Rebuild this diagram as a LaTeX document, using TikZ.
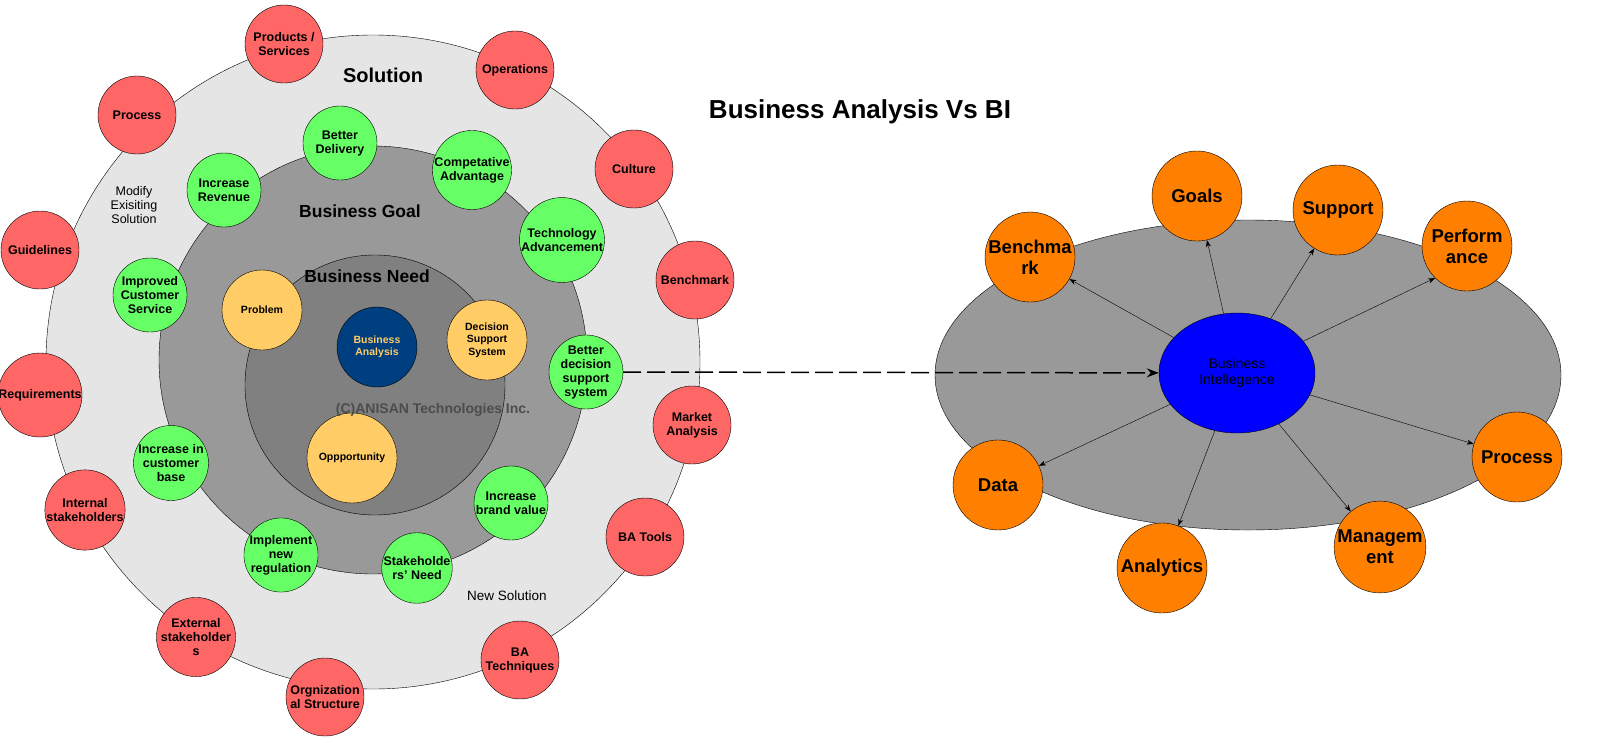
\documentclass[tikz,border=0pt]{standalone}
\usepackage{fontspec}
\setmainfont{Liberation Sans}
\usetikzlibrary{arrows.meta,shapes.geometric}
\definecolor{cred}{HTML}{FF6666}
\definecolor{cgrn}{HTML}{66FF66}
\definecolor{cyel}{HTML}{FFCC66}
\definecolor{cora}{HTML}{FF8000}
\definecolor{cnavy}{HTML}{003F7F}
\tikzset{
 bub/.style={circle,draw=black,minimum size=#1,inner sep=0pt,align=center,font=\fontsize{12.5}{14}\selectfont\bfseries},
 redb/.style={bub=78pt,fill=cred},
 grnb/.style={bub=74pt,fill=cgrn},
 yelb/.style={bub=80pt,fill=cyel,font=\fontsize{10.5}{12.5}\selectfont\bfseries},
 orgb/.style={bub=90pt,fill=cora,font=\fontsize{18.5}{21}\selectfont\bfseries},
 arr/.style={-{Stealth[length=7pt,width=5pt]},thin}
}
\begin{document}
\begin{tikzpicture}[x=1pt,y=-1pt]
\useasboundingbox (0,0) rectangle (1600,742);
\fill[white] (0,0) rectangle (1600,742);
\draw[fill=black!10] (373,362) circle (327);
\draw[fill=black!40] (373,360) circle (214);
\draw[fill=black!50] (375,385) circle (130);
\node[font=\fontsize{20}{22}\selectfont\bfseries] (sol) at (383,75) {Solution};
\node[font=\fontsize{17.5}{19}\selectfont\bfseries] (bg) at (360,211) {Business Goal};
\node[font=\fontsize{17.5}{19}\selectfont\bfseries] (bn) at (367,276) {Business Need};
\node[font=\fontsize{12.5}{14}\selectfont,align=center] (mod) at (134,205) {Modify\\Exisiting\\Solution};
\node[font=\fontsize{13.5}{15}\selectfont] (ns) at (507,596) {New Solution};
\node[bub=80pt,fill=cnavy,text=cyel,font=\fontsize{10.5}{12.5}\selectfont\bfseries] (ba) at (377,347) {Business\\Analysis};
% red
\node[redb] (r1) at (284,44) {Products /\\Services};
\node[redb] (r2) at (515,70) {Operations};
\node[redb] (r3) at (137,115) {Process};
\node[redb] (r4) at (634,169) {Culture};
\node[redb] (r5) at (40,250) {Guidelines};
\node[redb] (r6) at (695,280) {Benchmark};
\node[redb] (r7) at (40,395) {Requirements};
\node[redb] (r8) at (692,425) {Market\\Analysis};
\node[redb] (r9) at (85,510) {Internal\\stakeholders};
\node[redb] (r10) at (645,537) {BA Tools};
\node[redb] (r11) at (196,637) {External\\stakeholder\\s};
\node[redb] (r12) at (325,697) {Orgnization\\al Structure};
\node[redb] (r13) at (520,660) {BA\\Techniques};
% green
\node[grnb] (g1) at (340,143) {Better\\Delivery};
\node[grnb] (g2) at (472,170) {Competative\\Advantage};
\node[grnb] (g3) at (224,190) {Increase\\Revenue};
\node[grnb] (g4) at (562,240) {Technology\\Advancement};
\node[grnb] (g5) at (150,295) {Improved\\Customer\\Service};
\node[grnb] (g6) at (586,372) {Better\\decision\\support\\system};
\node[grnb] (g7) at (171,463) {Increase in\\customer\\base};
\node[grnb] (g8) at (511,503) {Increase\\brand value};
\node[grnb] (g9) at (281,555) {Implement\\new\\regulation};
\node[grnb,minimum size=70pt] (g10) at (417,568) {Stakeholde\\rs' Need};
% yellow
\node[yelb] (y1) at (262,310) {Problem};
\node[yelb] (y2) at (487,340) {Decision\\Support\\System};
\node[yelb,minimum size=90pt] (y3) at (352,458) {Oppportunity};
\node[font=\fontsize{14}{16}\selectfont\bfseries,text=black!70] (cp) at (433,410) {(C)ANISAN Technologies Inc.};
\node[font=\fontsize{26}{28}\selectfont\bfseries] (title) at (860,112) {Business Analysis Vs BI};
% right
\draw[fill=black!40] (1248,375) ellipse (313 and 155);
\node[ellipse,draw=black,fill=blue,minimum width=156pt,minimum height=120pt,inner sep=0pt,align=center,font=\fontsize{14}{16}\selectfont] (bi) at (1237,373) {Business\\Intellegence};
\node[orgb] (o1) at (1030,257) {Benchma\\rk};
\node[orgb] (o2) at (1197,196) {Goals};
\node[orgb] (o3) at (1338,210) {Support};
\node[orgb] (o4) at (1467,246) {Perform\\ance};
\node[orgb] (o5) at (1517,457) {Process};
\node[orgb] (o6) at (1380,547) {Managem\\ent};
\node[orgb] (o7) at (1162,568) {Analytics};
\node[orgb] (o8) at (998,485) {Data};
\draw[arr] (bi) -- (o1);
\draw[arr] (bi) -- (o2);
\draw[arr] (bi) -- (o3);
\draw[arr] (bi) -- (o4.south west);
\draw[arr] (bi) -- (o5);
\draw[arr] (bi) -- (o6);
\draw[arr] (bi) -- (o7);
\draw[arr] (bi) -- (o8);
\draw[-{Stealth[length=12pt,width=9pt]},dash pattern=on 18pt off 6pt,line width=1.5pt] (g6) -- (bi);
\end{tikzpicture}
\end{document}
